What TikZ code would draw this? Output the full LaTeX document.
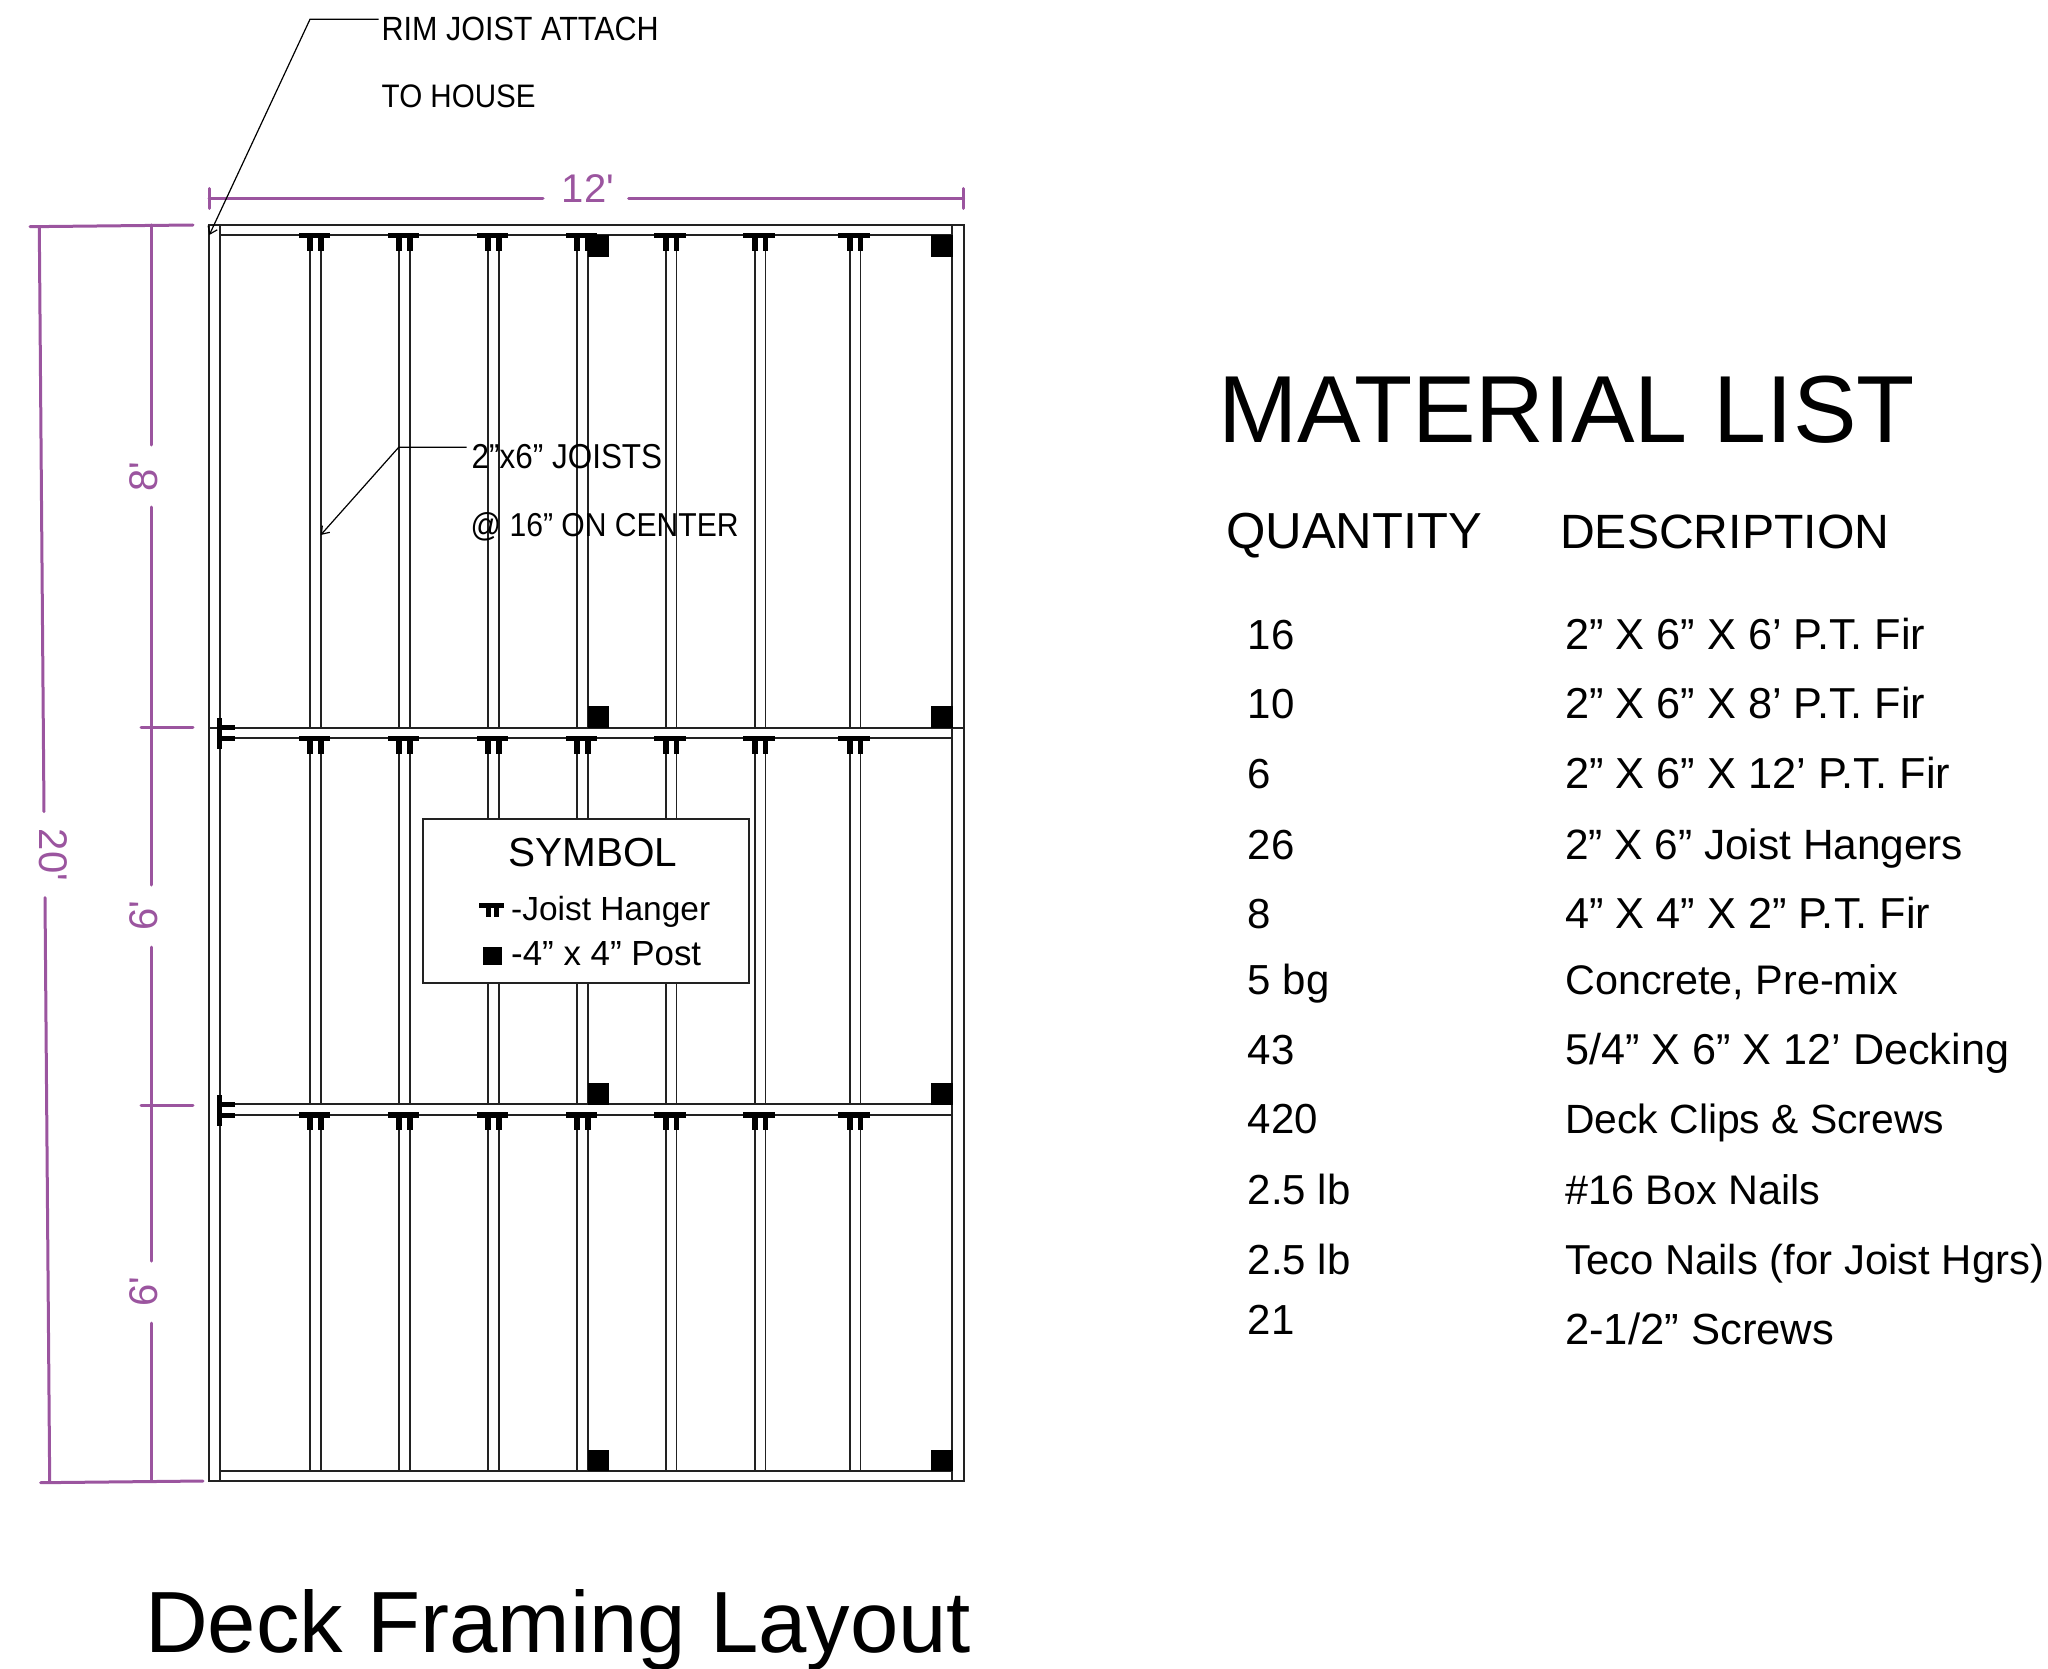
\documentclass[tikz,border=0pt]{standalone}
\usepackage{fontspec}
\usepackage{graphicx}
\setmainfont{Liberation Sans}
\newfontfamily\dimfont{Liberation Sans}
\usetikzlibrary{arrows.meta}
\definecolor{dimpurple}{HTML}{9B559F}
\definecolor{inkline}{HTML}{222222}
\newcommand\fitw[2]{\resizebox{#1pt}{!}{#2}}
\newcommand\fitt[2]{\scalebox{1}[1.1]{\resizebox{#1pt}{!}{#2}}}
\newcommand\hngr[2]{%
  \fill[black] (#1-11.3,#2) rectangle (#1+20,#2+5.2);
  \fill[black] (#1-2.6,#2) rectangle (#1+2.8,#2+18);
  \fill[black] (#1+8.1,#2) rectangle (#1+13.5,#2+18);}
\tikzset{
  framing/.style={draw=inkline,line width=1.7pt},
  leader/.style={draw=black,line width=1.2pt},
  dimline/.style={draw=dimpurple,line width=3pt,line cap=round},
  dimtext/.style={text=dimpurple,font=\dimfont\fontsize{40}{48}\selectfont,inner sep=0pt},
  notetext/.style={font=\fontsize{30}{36}\selectfont,anchor=base west,inner sep=0pt},
  listtext/.style={font=\fontsize{42}{50}\selectfont,anchor=base west,inner sep=0pt},
  headtext/.style={font=\fontsize{52}{60}\selectfont,anchor=base west,inner sep=0pt},
  symtext/.style={font=\fontsize{32}{38}\selectfont,anchor=base west,inner sep=0pt},
  postmark/.style={fill=black,draw=none},
  symbolbox/.style={fill=white,draw=inkline,line width=1.7pt}
}
\begin{document}
\begin{tikzpicture}[x=1pt,y=-1pt]
\useasboundingbox (0,0) rectangle (2048,1669);
% joists
\foreach \jx in {310,399,488,577,665.7,754.7,849.7}{
  \foreach \ya/\yb in {235/727.7,737.7/1104.3,1114.7/1471.3}{
    \draw[framing] (\jx,\ya) -- (\jx,\yb);
    \draw[framing] (\jx+10.7,\ya) -- (\jx+10.7,\yb);
  }
}
% frame
\draw[framing] (209,225) rectangle (963.7,1481.3);
\draw[framing] (220,225) -- (220,1481.3);
\draw[framing] (952,225) -- (952,1481.3);
\draw[framing] (220,235) -- (952,235);
\draw[framing] (209,727.7) -- (963.7,727.7);
\draw[framing] (220,737.7) -- (952,737.7);
\draw[framing] (220,1104.3) -- (952,1104.3);
\draw[framing] (220,1114.7) -- (952,1114.7);
\draw[framing] (220,1471.3) -- (952,1471.3);
% posts
\foreach \py in {235,706,1083,1449.5}{
  \fill[postmark] (587.5,\py) rectangle (609,\py+21.8);
  \fill[postmark] (931,\py) rectangle (952.5,\py+21.8);
}
% hangers
\foreach \jx in {310,399,488,577,665.7,754.7,849.7}{
  \hngr{\jx}{233}
  \hngr{\jx}{735.6}
  \hngr{\jx}{1112.4}
}
\foreach \hy in {718.3,1095.3}{
  \fill[black] (217.3,\hy) rectangle (222.3,\hy+31);
  \fill[black] (217.3,\hy+7) rectangle (234.7,\hy+11.8);
  \fill[black] (217.3,\hy+17.4) rectangle (234.7,\hy+22.2);
}
% dimensions
\draw[dimline] (209,188.5) -- (209,208.5);
\draw[dimline] (963.7,188.5) -- (963.7,208.5);
\draw[dimline] (209,198.5) -- (543,198.5);
\draw[dimline] (628.6,198.5) -- (963.7,198.5);
\node[dimtext,anchor=base] (dimtop) at (588,203) {12'};
\draw[dimline] (30,226.7) -- (193,225);
\draw[dimline] (40.7,1482.7) -- (203,1481);
\draw[dimline] (39.3,227) -- (44,811.7);
\draw[dimline] (45,897.7) -- (49.7,1482);
\node[dimtext,anchor=base,rotate=-90] (dimall) at (39,855) {20'};
\draw[dimline] (151,225) -- (151,445);
\draw[dimline] (151,507) -- (151,885);
\draw[dimline] (151,947) -- (151,1261);
\draw[dimline] (151,1323) -- (151,1481);
\draw[dimline] (141,727.7) -- (193,727.7);
\draw[dimline] (141,1105) -- (193,1105);
\node[dimtext,anchor=base,rotate=90] (dimA) at (157,477) {8'};
\node[dimtext,anchor=base,rotate=90] (dimB) at (157,915.5) {6'};
\node[dimtext,anchor=base,rotate=90] (dimC) at (157,1292) {6'};
% legend
\node[symbolbox,minimum width=326pt,minimum height=164pt,inner sep=0pt] (legend) at (586,900.8) {};
\node[symtext] (symhead) at (508,866) {\fitw{169}{\fontsize{40}{48}\selectfont SYMBOL}};
\fill[black] (479,903.3) rectangle (504,908);
\fill[black] (485.7,903.3) rectangle (490.7,917.3);
\fill[black] (494,903.3) rectangle (499.3,917.3);
\node[symtext] (symjoist) at (511,920.3) {\fitw{199}{-Joist Hanger}};
\fill[black] (483.3,946.7) rectangle (502,965);
\node[symtext] (sympost) at (511,965) {\fitw{190}{-4” x 4” Post}};
% notes and leaders
\node[notetext] (rimA) at (381.5,40.3) {\fitt{277}{RIM JOIST ATTACH}};
\node[notetext] (rimB) at (381.5,108) {\fitt{154}{TO HOUSE}};
\coordinate (rimstart) at (378.6,19.3);
\coordinate (rimbend) at (310,19.3);
\coordinate (rimtip) at (209.3,235);
\draw[leader,-{Straight Barb[length=7pt,width=10pt]}] (rimstart) -- (rimbend) -- (rimtip);
\node[notetext] (joistA) at (471.5,468.3) {\fitt{190.5}{2”x6” JOISTS}};
\node[notetext] (joistB) at (470.5,536) {\fitt{268}{@ 16” ON CENTER}};
\coordinate (joiststart) at (466.7,447.3);
\coordinate (joistbend) at (398.7,447.3);
\coordinate (joisttip) at (320.7,535);
\draw[leader,-{Straight Barb[length=7pt,width=10pt]}] (joiststart) -- (joistbend) -- (joisttip);
% titles
\node[font=\fontsize{96}{110}\selectfont,anchor=base west,inner sep=0pt] (mattitle) at (1218,442.7) {\fitw{697}{MATERIAL LIST}};
\node[headtext] (qhead) at (1226,548) {\fitw{256}{QUANTITY}};
\node[headtext] (dhead) at (1560,548) {\fitw{329}{DESCRIPTION}};
\node[font=\fontsize{88}{100}\selectfont,anchor=base west,inner sep=0pt] (decktitle) at (145,1652) {\fitw{826}{Deck Framing Layout}};
% quantities
\node[listtext] (q1) at (1247.5,649) {16};
\node[listtext] (q2) at (1247.5,718.5) {10};
\node[listtext] (q3) at (1247.5,788) {6};
\node[listtext] (q4) at (1247.5,859) {26};
\node[listtext] (q5) at (1247.5,928) {8};
\node[listtext] (q6) at (1247.5,994) {5 bg};
\node[listtext] (q7) at (1247.5,1064) {43};
\node[listtext] (q8) at (1247.5,1133.5) {420};
\node[listtext] (q9) at (1247.5,1204.5) {2.5 lb};
\node[listtext] (q10) at (1247.5,1274) {2.5 lb};
\node[listtext] (q11) at (1247.5,1334) {21};
% descriptions
\node[listtext] (d1) at (1565,649) {\fitw{360}{2” X 6” X 6’ P.T. Fir}};
\node[listtext] (d2) at (1565,718.5) {\fitw{360}{2” X 6” X 8’ P.T. Fir}};
\node[listtext] (d3) at (1565,788) {\fitw{385}{2” X 6” X 12’ P.T. Fir}};
\node[listtext] (d4) at (1565,859) {\fitw{398}{2” X 6” Joist Hangers}};
\node[listtext] (d5) at (1565,928) {\fitw{365}{4” X 4” X 2” P.T. Fir}};
\node[listtext] (d6) at (1565,994) {\fitw{333}{Concrete, Pre-mix}};
\node[listtext] (d7) at (1565,1064) {\fitw{444}{5/4” X 6” X 12’ Decking}};
\node[listtext] (d8) at (1565,1133.5) {\fitw{379}{Deck Clips \& Screws}};
\node[listtext] (d9) at (1565,1204.5) {\fitw{255}{\#16 Box Nails}};
\node[listtext] (d10) at (1565,1274) {\fitw{479}{Teco Nails (for Joist Hgrs)}};
\node[listtext] (d11) at (1565,1344) {\fitw{269}{2-1/2” Screws}};
\end{tikzpicture}
\end{document}
